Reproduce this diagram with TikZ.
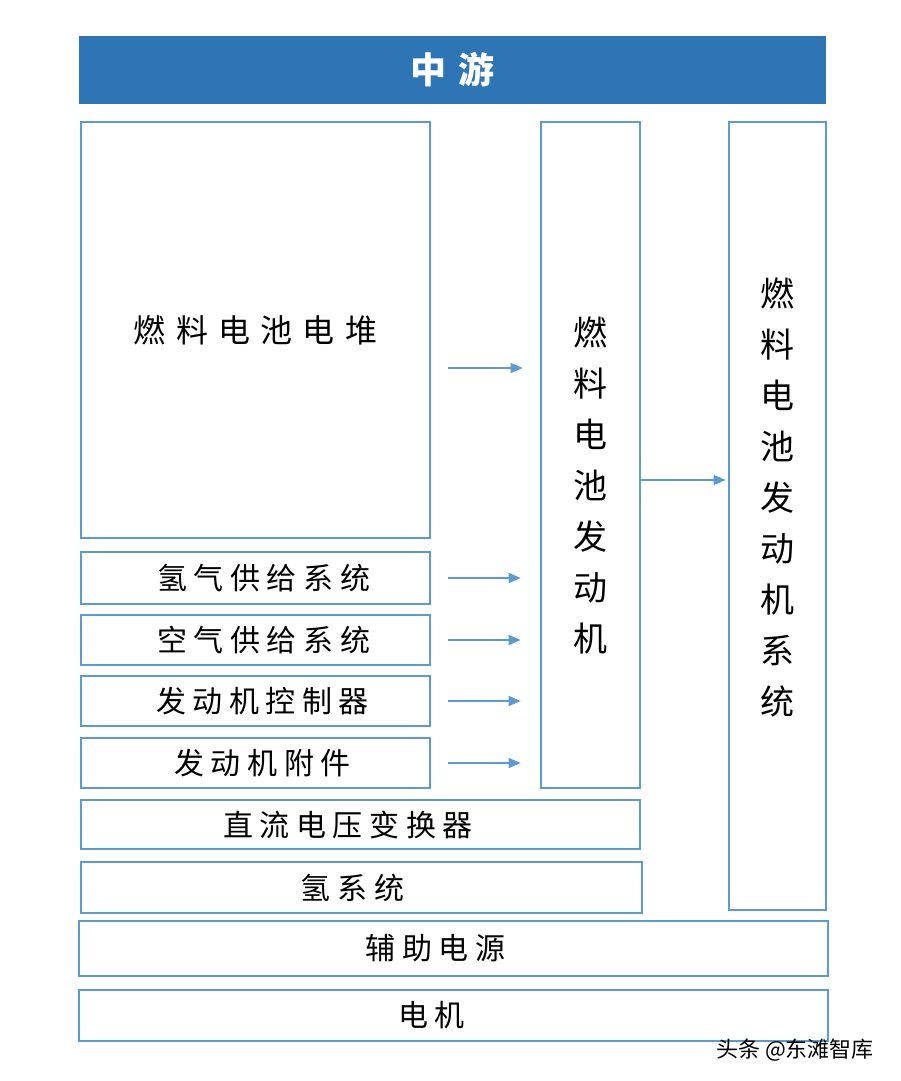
\documentclass[tikz,border=0pt]{standalone}
\usepackage{fontspec}
\usepackage{tikz}
\usepackage{xcolor}
\usetikzlibrary{shapes,positioning,arrows.meta}

\newfontfamily\cjk{Noto Sans CJK SC}
\newfontfamily\cjkwide[LetterSpace=22]{Noto Sans CJK SC}
\newfontfamily\cjkbig[LetterSpace=32]{Noto Sans CJK SC}
\definecolor{headblue}{HTML}{2E75B6}
\definecolor{lineblue}{HTML}{5B9BD5}

\begin{document}
\begin{tikzpicture}[
        x=0.5pt, y=-0.5pt,
        box/.style={rectangle, draw=lineblue, line width=1.3pt, fill=white, inner sep=0pt},
        label/.style={font=\cjkwide\fontsize{15}{18}\selectfont},
        vlabel/.style={align=center, font=\cjk\fontsize{17}{25.5}\selectfont},
        arrow/.style={draw=lineblue, line width=0.6pt, -{Triangle[length=6pt, width=5pt]}}
    ]
        \useasboundingbox (0, 0) rectangle (900, 1081);

        % Header
        \node[rectangle, fill=headblue, inner sep=0pt, minimum width=373.5pt, minimum height=34pt,
              text=white, font=\cjkbig\bfseries\fontsize{18}{20}\selectfont] (head) at (452.5, 70) {中游};

        % Left column
        \node[box, minimum width=174.5pt, minimum height=208pt,
              font=\cjkbig\fontsize{16}{20}\selectfont] (stack) at (255.5, 330) {燃料电池电堆};
        \node[box, label, minimum width=174.5pt, minimum height=26pt] (hsupply) at (255.5, 578) {\hspace{8pt}氢气供给系统};
        \node[box, label, minimum width=174.5pt, minimum height=25pt] (asupply) at (255.5, 640) {\hspace{8pt}空气供给系统};
        \node[box, label, minimum width=174.5pt, minimum height=25pt] (control) at (255.5, 701) {\hspace{7pt}发动机控制器};
        \node[box, label, minimum width=174.5pt, minimum height=25pt] (parts) at (255.5, 763) {\hspace{7pt}发动机附件};

        % Engine and system
        \node[box, minimum width=49.5pt, minimum height=333pt] (engine) at (590.5, 455) {};
        \node[vlabel] (enginetext) at ([yshift=-15pt]engine.center) {燃\\料\\电\\池\\发\\动\\机};
        \node[box, minimum width=48.5pt, minimum height=394pt] (system) at (777.5, 516) {};
        \node[vlabel] (systemtext) at ([yshift=9.5pt]system.center) {燃\\料\\电\\池\\发\\动\\机\\系\\统};

        % Bottom rows
        \node[box, label, minimum width=279.5pt, minimum height=24.5pt] (dcdc) at (360.5, 824.5) {直流电压变换器\hspace{12.5pt}\mbox{}};
        \node[box, label, minimum width=280.5pt, minimum height=25.5pt] (hsys) at (361.5, 887.5) {氢系统\hspace{9pt}\mbox{}};
        \node[box, label, minimum width=374.5pt, minimum height=27.5pt] (aux) at (453.5, 948.5) {辅助电源\hspace{18pt}\mbox{}};
        \node[box, label, minimum width=374.5pt, minimum height=25.5pt] (motor) at (453.5, 1015.5) {电机\hspace{22pt}\mbox{}};

        % Arrows
        \draw[arrow, shorten <=8.5pt, shorten >=8.5pt] ([yshift=-19pt]stack.east) -- ([yshift=-19pt]stack.east -| engine.west);
        \foreach \part in {hsupply, asupply, control, parts}
            \draw[arrow, shorten <=8.5pt, shorten >=9.5pt] (\part.east) -- (\part.east -| engine.west);
        \draw[arrow, shorten >=1pt] ([yshift=-12.5pt]engine.east) -- ([yshift=-12.5pt]engine.east -| system.west);

        % Watermark
        \node[font=\cjk\fontsize{11}{13}\selectfont, anchor=east] (mark) at (881, 1050) {头条 @东滩智库};
    \end{tikzpicture}
\end{document}
